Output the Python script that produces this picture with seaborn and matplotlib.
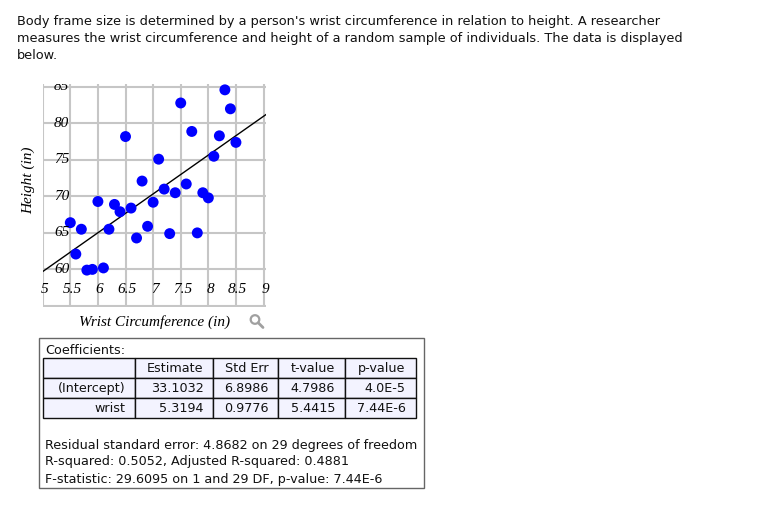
import matplotlib
matplotlib.use("Agg")
import matplotlib.pyplot as plt
from matplotlib.patches import Rectangle, Circle
import seaborn as sns
import numpy as np
import pandas as pd

# data
wrist = [5.5, 5.6, 5.7, 5.8, 5.9, 6.0, 6.1, 6.2, 6.3, 6.4, 6.5, 6.6, 6.7, 6.8, 6.9, 7.0,
         7.1, 7.2, 7.3, 7.4, 7.5, 7.6, 7.7, 7.8, 7.9, 8.0, 8.1, 8.2, 8.3, 8.4, 8.5]
height = [66.4, 62.1, 65.5, 59.9, 60.0, 69.3, 60.2, 65.5, 68.9, 67.9, 78.2, 68.4, 64.3, 72.1, 65.9, 69.2,
          75.1, 71.0, 64.9, 70.5, 82.8, 71.7, 78.9, 65.0, 70.5, 69.8, 75.5, 78.3, 84.6, 82.0, 77.4]
intercept = 33.1032
slope = 5.3194

x_ticks = [5, 5.5, 6, 6.5, 7, 7.5, 8, 8.5, 9]
x_tick_labels = ["5", "5.5", "6", "6.5", "7", "7.5", "8", "8.5", "9"]
y_ticks = [55, 60, 65, 70, 75, 80, 85]
y_tick_labels = ["55", "60", "65", "70", "75", "80", "85"]

coef_cols = ["", "Estimate", "Std Err", "t-value", "p-value"]
coef_rows = [["(Intercept)", "33.1032", "6.8986", "4.7986", "4.0E-5"],
             ["wrist", "5.3194", "0.9776", "5.4415", "7.44E-6"]]
summary_lines = ["Residual standard error: 4.8682 on 29 degrees of freedom",
                 "R-squared: 0.5052, Adjusted R-squared: 0.4881",
                 "F-statistic: 29.6095 on 1 and 29 DF, p-value: 7.44E-6"]
intro = ("Body frame size is determined by a person's wrist circumference in relation to height. A researcher\n"
         "measures the wrist circumference and height of a random sample of individuals. The data is displayed\n"
         "below.")

df = pd.DataFrame({"wrist": wrist, "height": height})

sns.set_style("white")
plt.rcParams["font.family"] = ["DejaVu Sans"]

W, H = 777, 507
fig = plt.figure(figsize=(W / 100, H / 100), dpi=100)

# overlay in pixel coords for text, table and icon
ov = fig.add_axes([0, 0, 1, 1])
ov.set_xlim(0, W)
ov.set_ylim(H, 0)
ov.axis("off")

# scatter plot
ax = fig.add_axes([42.7 / W, 1 - 306.6 / H, 223.6 / W, 222.6 / H])
ax.set_facecolor("none")
ax.set_xlim(5, 9.05)
ax.set_ylim(54.9, 85.4)
ax.set_xticks(x_ticks)
ax.set_yticks(y_ticks)
ax.grid(True, color="#c6c6c6", lw=1.5)
ax.tick_params(left=False, bottom=False, labelleft=False, labelbottom=False)
for s in ax.spines.values():
    s.set_visible(False)

sns.scatterplot(data=df, x="wrist", y="height", ax=ax, color="#0000ff", s=62,
                edgecolor="none", zorder=3, legend=False)
ax.axline((0, intercept), slope=slope, color="black", lw=1, zorder=2)
ax.set_xlabel("")
ax.set_ylabel("")

serif = dict(family="Liberation Serif", style="italic", color="black")
for t, lab in zip(x_ticks, x_tick_labels):
    ax.text(t + 0.03, 57.3, lab, ha="center", va="center", fontsize=11, **serif)
for t, lab in zip(y_ticks, y_tick_labels):
    if t == 55:
        continue
    ax.text(5.48, t, lab, ha="right", va="center", fontsize=11, clip_on=True, **serif)

ov.text(28, 180, "Height (in)", rotation=90, ha="center", va="center", fontsize=11, **serif)
ov.text(155, 322, "Wrist Circumference (in)", ha="center", va="center", fontsize=11, **serif)

# magnifier icon
ov.add_patch(Circle((255, 319.5), 4.3, fill=False, ec="#a0a0a0", lw=1.6))
ov.plot([258.3, 263], [322.8, 327.5], color="#a0a0a0", lw=2, solid_capstyle="round")

# intro text
ov.text(17, 14.5, intro, ha="left", va="top", fontsize=9.3, linespacing=1.42, color="#111111")

# output box
ov.add_patch(Rectangle((38.5, 337.5), 385.5, 150, fill=False, ec="#666666", lw=1))
ov.text(45, 350, "Coefficients:", ha="left", va="center", fontsize=9.2, color="#111111")

col_edges = [43.3, 135.3, 213.3, 278.3, 345, 415.7]
row_edges = [358, 378, 398, 418]
table = [coef_cols] + coef_rows
for r, row in enumerate(table):
    for c, val in enumerate(row):
        x0, x1 = col_edges[c], col_edges[c + 1]
        y0, y1 = row_edges[r], row_edges[r + 1]
        ov.add_patch(Rectangle((x0, y0), x1 - x0, y1 - y0, fc="#f3f3ff", ec="#111111", lw=1))
        if val:
            ov.text(x1 - 10, (y0 + y1) / 2 + 0.5, val, ha="right", va="center",
                    fontsize=9.2, color="#111111")

for i, line in enumerate(summary_lines):
    ov.text(45, 445 + i * 17, line, ha="left", va="center", fontsize=9.2, color="#111111")

fig.savefig("out.png", dpi=100)
